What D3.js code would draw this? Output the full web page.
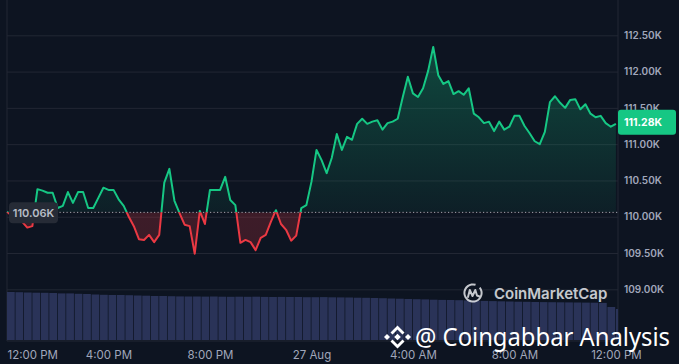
<!DOCTYPE html>
<html>
<head>
<meta charset="utf-8">
<script src="https://cdn.jsdelivr.net/npm/d3@7"></script>
<style>
html, body { margin: 0; padding: 0; background: #0d1421; overflow: hidden; }
svg { display: block; font-family: Inter, "Noto Sans", sans-serif; }
</style>
</head>
<body>
<svg id="chart"></svg>
<script>
// colors
const bgColor = '#0d1421';
const gridColor = '#222734';
const green = '#16c784';
const red = '#ea3943';
const tickColor = '#a1a7bb';

// data (BTC price in thousands USD, 12 min steps from 26 Aug 12:00 PM)
const startTime = new Date(2025, 7, 26, 12, 0);
const priceStepMin = 12;
const volumeStepMin = 20;
const openPrice = 110.06;
const lastPrice = 111.28;
const priceTicks = [109, 109.5, 110, 110.5, 111, 111.5, 112, 112.5];

const prices = [
    110.07, 110.01, 109.98, 109.93, 109.85, 109.87, 110.38, 110.36, 110.33, 110.33,
    110.12, 110.15, 110.34, 110.19, 110.34, 110.34, 110.12, 110.12, 110.26, 110.40,
    110.37, 110.37, 110.24, 110.15, 110.00, 109.87, 109.69, 109.68, 109.75, 109.65,
    109.75, 110.47, 110.66, 110.22, 110.05, 109.89, 109.87, 109.49, 110.08, 109.90,
    110.37, 110.37, 110.37, 110.55, 110.23, 110.16, 109.64, 109.68, 109.65, 109.54,
    109.71, 109.75, 109.93, 110.09, 109.90, 109.82, 109.67, 109.74, 110.12, 110.16,
    110.48, 110.92, 110.78, 110.60, 110.81, 111.14, 110.92, 111.10, 111.06, 111.28,
    111.35, 111.28, 111.31, 111.33, 111.20, 111.29, 111.31, 111.35, 111.65, 111.93,
    111.70, 111.65, 111.77, 112.01, 112.34, 111.95, 111.83, 111.87, 111.69, 111.73,
    111.68, 111.77, 111.42, 111.37, 111.29, 111.31, 111.18, 111.31, 111.20, 111.24,
    111.39, 111.39, 111.25, 111.15, 111.04, 111.00, 111.17, 111.58, 111.66, 111.57,
    111.50, 111.61, 111.62, 111.48, 111.55, 111.42, 111.37, 111.39, 111.29, 111.24,
    111.28
];

// volume (relative units, 20 min steps)
const volumes = [
    48.0, 47.8, 47.5, 47.3, 47.2, 47.0, 46.6, 46.6, 46.2, 46.0,
    45.5, 45.2, 45.0, 45.0, 44.8, 44.5, 44.3, 44.0, 44.0, 43.8,
    43.6, 43.5, 43.5, 43.4, 43.5, 43.3, 43.2, 43.3, 43.2, 43.3,
    43.1, 43.0, 43.1, 43.0, 43.0, 42.8, 42.8, 42.9, 42.7, 42.6,
    42.5, 42.3, 42.2, 42.0, 41.8, 41.5, 41.3, 41.0, 40.8, 40.6,
    40.3, 40.1, 40.0, 39.8, 39.6, 39.3, 39.1, 38.9, 38.7, 38.5,
    38.3, 38.2, 38.0, 37.9, 37.8, 37.7, 37.6, 37.5, 37.4, 37.3,
    37.1, 33.0, 31.0
];

const width = 679;
const height = 364;
const left = 7, right = 618, bottom = 341;
const minute = 60000;

const priceData = prices.map((p, i) => ({ t: new Date(+startTime + i * priceStepMin * minute), p }));
const volumeData = volumes.map((v, i) => ({ t: new Date(+startTime + i * volumeStepMin * minute), v }));

const x = d3.scaleTime()
    .domain([startTime, new Date(+startTime + (24 * 60 + 5) * minute)])
    .range([left, right]);
const y = d3.scaleLinear().domain([109, 112.5]).range([289.3, 35.3]);
const yv = d3.scaleLinear().domain([0, 50]).range([340, 290]);

const svg = d3.select('#chart')
    .attr('width', width)
    .attr('height', height);

svg.append('rect').attr('width', width).attr('height', height).attr('fill', bgColor);

const baseY = y(openPrice);
const defs = svg.append('defs');

defs.append('clipPath').attr('id', 'above')
    .append('rect').attr('x', 0).attr('y', 0).attr('width', width).attr('height', baseY);
defs.append('clipPath').attr('id', 'below')
    .append('rect').attr('x', 0).attr('y', baseY).attr('width', width).attr('height', height - baseY);

const gGreen = defs.append('linearGradient').attr('id', 'gGreen')
    .attr('gradientUnits', 'userSpaceOnUse')
    .attr('x1', 0).attr('x2', 0).attr('y1', y(112.4)).attr('y2', baseY);
gGreen.append('stop').attr('offset', 0).attr('stop-color', green).attr('stop-opacity', 0.3);
gGreen.append('stop').attr('offset', 1).attr('stop-color', green).attr('stop-opacity', 0.06);

const gRed = defs.append('linearGradient').attr('id', 'gRed')
    .attr('gradientUnits', 'userSpaceOnUse')
    .attr('x1', 0).attr('x2', 0).attr('y1', baseY).attr('y2', y(109.45));
gRed.append('stop').attr('offset', 0).attr('stop-color', red).attr('stop-opacity', 0.22);
gRed.append('stop').attr('offset', 1).attr('stop-color', red).attr('stop-opacity', 0.2);

// grid
svg.append('g')
    .attr('class', 'grid')
    .attr('transform', `translate(${left},0)`)
    .call(d3.axisRight(y).tickValues(priceTicks).tickSize(right - left).tickFormat(''))
    .call(g => g.select('.domain').remove())
    .call(g => g.selectAll('line').attr('stroke', gridColor).attr('stroke-width', 1));

svg.append('line')
    .attr('x1', left).attr('x2', left).attr('y1', 0).attr('y2', bottom)
    .attr('stroke', gridColor);
svg.append('line')
    .attr('x1', right).attr('x2', right).attr('y1', 0).attr('y2', bottom)
    .attr('stroke', gridColor);
svg.append('line')
    .attr('x1', left).attr('x2', right).attr('y1', bottom).attr('y2', bottom)
    .attr('stroke', gridColor);

// volume
const barW = x(new Date(+startTime + volumeStepMin * minute)) - x(startTime);
svg.append('g')
    .selectAll('rect')
    .data(volumeData)
    .enter()
    .append('rect')
        .attr('x', d => x(d.t))
        .attr('y', d => yv(d.v))
        .attr('width', d => Math.max(0, Math.min(barW - 0.7, right - x(d.t))))
        .attr('height', d => yv(0) - yv(d.v))
        .attr('fill', '#2a3358');

// price area + line
const area = d3.area()
    .x(d => x(d.t))
    .y0(baseY)
    .y1(d => y(d.p));
const line = d3.line()
    .x(d => x(d.t))
    .y(d => y(d.p));

svg.append('path').datum(priceData)
    .attr('d', area).attr('fill', 'url(#gGreen)').attr('clip-path', 'url(#above)');
svg.append('path').datum(priceData)
    .attr('d', area).attr('fill', 'url(#gRed)').attr('clip-path', 'url(#below)');

svg.append('line')
    .attr('x1', left).attr('x2', right).attr('y1', baseY).attr('y2', baseY)
    .attr('stroke', '#d1d4dc').attr('stroke-opacity', 0.75)
    .attr('stroke-dasharray', '1.2,2.3');

svg.append('path').datum(priceData)
    .attr('d', line).attr('fill', 'none').attr('stroke', green).attr('stroke-width', 2)
    .attr('stroke-linejoin', 'round').attr('clip-path', 'url(#above)');
svg.append('path').datum(priceData)
    .attr('d', line).attr('fill', 'none').attr('stroke', red).attr('stroke-width', 2)
    .attr('stroke-linejoin', 'round').attr('clip-path', 'url(#below)');

// y axis labels
svg.append('g')
    .attr('transform', `translate(${right},0)`)
    .call(d3.axisRight(y).tickValues(priceTicks).tickSize(0).tickPadding(6)
        .tickFormat(d => d.toFixed(2) + 'K'))
    .call(g => g.select('.domain').remove())
    .call(g => g.selectAll('text')
        .attr('fill', tickColor)
        .style('font-size', '10px')
        .style('font-weight', 600)
        .style('font-family', 'Inter, sans-serif'));

// x axis labels
const timeFmt = d3.timeFormat('%-I:%M %p');
const dayFmt = d3.timeFormat('%-d %b');
svg.append('g')
    .attr('transform', `translate(0,347)`)
    .call(d3.axisBottom(x).ticks(d3.timeHour.every(4)).tickSize(0).tickPadding(4)
        .tickFormat(d => d.getHours() === 0 ? dayFmt(d) : timeFmt(d)))
    .call(g => g.select('.domain').remove())
    .call(g => g.selectAll('text')
        .attr('fill', tickColor)
        .style('font-size', '11.5px')
        .style('font-family', 'Inter, sans-serif'))
    .call(g => g.select('.tick text').attr('text-anchor', 'start'));

// open price label
svg.append('rect')
    .attr('x', 9).attr('y', baseY - 10).attr('width', 49).attr('height', 21).attr('rx', 4)
    .attr('fill', '#262b36');
svg.append('text')
    .attr('x', 33.5).attr('y', baseY + 0.5)
    .attr('text-anchor', 'middle').attr('dominant-baseline', 'central')
    .attr('fill', '#b7bdc6')
    .style('font-size', '11px').style('font-weight', 600)
    .text(openPrice.toFixed(2) + 'K');

// last price label
const lastY = y(lastPrice) - 1.5;
svg.append('rect')
    .attr('x', right).attr('y', lastY - 12.5).attr('width', 58).attr('height', 25).attr('rx', 3)
    .attr('fill', green);
svg.append('text')
    .attr('x', right + 6).attr('y', lastY)
    .attr('dominant-baseline', 'central')
    .attr('fill', '#ffffff')
    .style('font-size', '10.5px').style('font-weight', 700)
    .text(lastPrice.toFixed(2) + 'K');

// CoinMarketCap watermark
const cmc = svg.append('g').attr('transform', 'translate(473,293)').attr('opacity', 0.85);
cmc.append('path')
    .attr('d', d3.arc()({ innerRadius: 7.6, outerRadius: 9.6, startAngle: 0.9, endAngle: 2 * Math.PI + 0.3 }))
    .attr('fill', '#e6e8ec');
cmc.append('path')
    .attr('d', 'M-5,4 L-3.2,-3 L-0.5,3 L2.3,-3 L4,2.5 L6.5,3.5')
    .attr('fill', 'none').attr('stroke', '#e6e8ec').attr('stroke-width', 2)
    .attr('stroke-linejoin', 'round').attr('stroke-linecap', 'round');
svg.append('text')
    .attr('x', 494).attr('y', 299)
    .attr('fill', '#e6e8ec').attr('opacity', 0.85)
    .style('font-size', '15px').style('font-weight', 600)
    .text('CoinMarketCap');

// Coingabbar watermark
const bn = svg.append('g').attr('transform', 'translate(397.5,337)').attr('fill', '#ffffff');
bn.append('path').attr('d', 'M0,-3.3 L3.3,0 L0,3.3 L-3.3,0 Z');
bn.append('path').attr('d', 'M-10.5,-3 L-7.5,0 L-10.5,3 L-13.5,0 Z');
bn.append('path').attr('d', 'M10.5,-3 L13.5,0 L10.5,3 L7.5,0 Z');
bn.append('path').attr('d', 'M-7,-4.5 L0,-11.5 L7,-4.5 L5,-2.5 L0,-7.5 L-5,-2.5 Z');
bn.append('path').attr('d', 'M-7,4.5 L0,11.5 L7,4.5 L5,2.5 L0,7.5 L-5,2.5 Z');

svg.append('text')
    .attr('x', 415).attr('y', 346)
    .attr('fill', '#ffffff')
    .attr('textLength', 255).attr('lengthAdjust', 'spacingAndGlyphs')
    .style('font-size', '25px').style('font-family', '"Noto Sans", sans-serif')
    .text('@ Coingabbar Analysis');
</script>
</body>
</html>
